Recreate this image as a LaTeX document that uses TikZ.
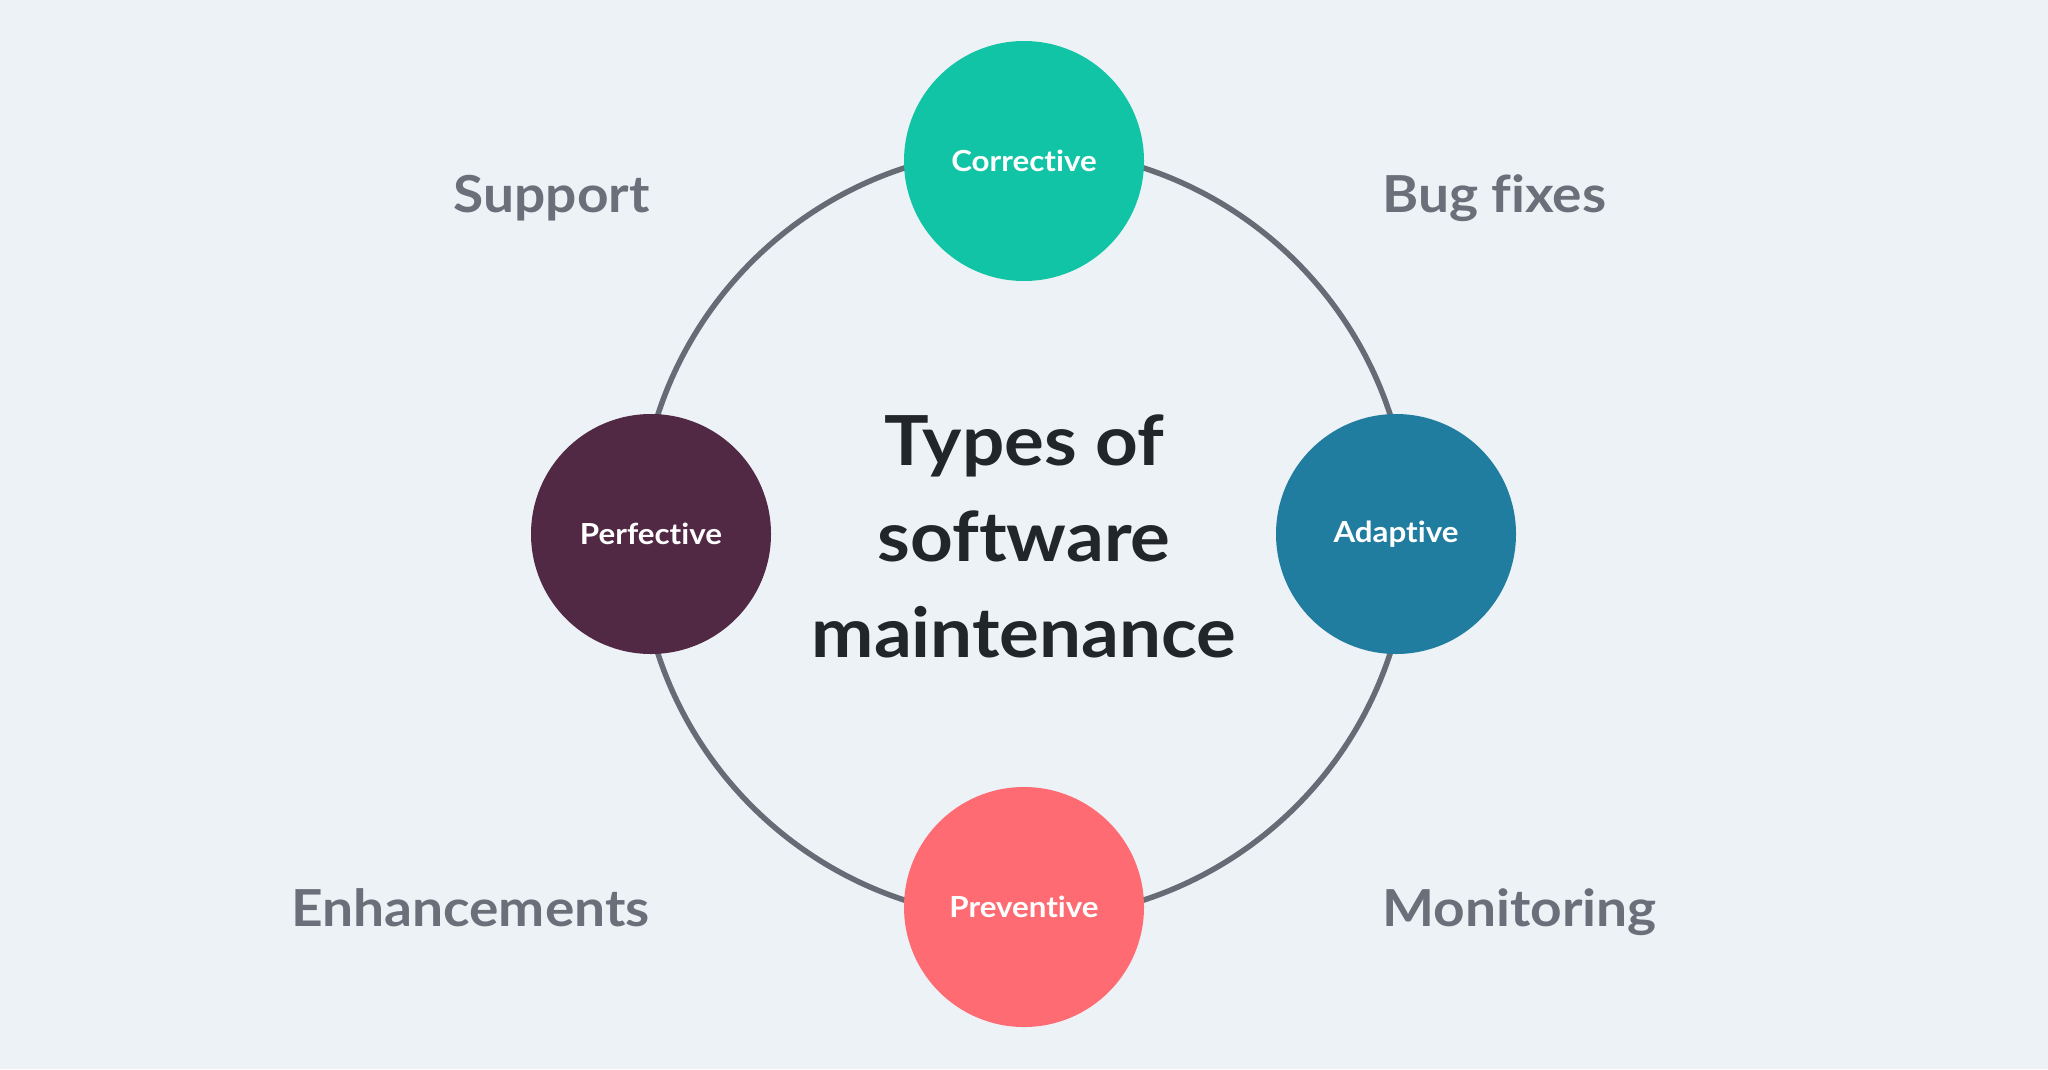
\documentclass[tikz,border=0pt]{standalone}
\usepackage{fontspec}
\setmainfont[FakeStretch=1.08, Ligatures={NoCommon,NoRare,NoDiscretionary}]{Lato}
\definecolor{bg}{HTML}{ECF2F5}
\definecolor{ringc}{HTML}{676B75}
\definecolor{labc}{HTML}{6B6F7A}
\definecolor{titlec}{HTML}{222529}
\definecolor{corc}{HTML}{10C4A5}
\definecolor{adac}{HTML}{217D9F}
\definecolor{perc}{HTML}{512944}
\definecolor{prec}{HTML}{FF6B72}
\tikzset{
  ring/.style={draw=ringc, line width=5.5pt},
  kind/.style={circle, minimum size=240pt, inner sep=0pt, text=white,
    font=\bfseries\fontsize{29}{34}\selectfont},
  lab/.style={text=labc, inner sep=0pt, font=\bfseries\fontsize{51}{60}\selectfont},
  title/.style={text=titlec, align=center, inner sep=0pt,
    font=\bfseries\fontsize{69}{96}\selectfont}
}
\begin{document}
\begin{tikzpicture}[x=1pt,y=-1pt]
\fill[bg] (0,0) rectangle (2048,1069);
\useasboundingbox (0,0) rectangle (2048,1069);
\coordinate (ctr) at (1024,534);
\draw[ring] (ctr) circle[radius=385];
\node[kind, fill=corc] (cor) at (1024,161) {Corrective};
\node[kind, fill=adac] (ada) at (1396,534) {Adaptive};
\node[kind, fill=perc] (per) at (651,534) {Perfective};
\node[kind, fill=prec] (pre) at (1024,907) {Preventive};
\node[title] (ttl) at (1024,536) {Types of\\software\\maintenance};
\node[lab, anchor=base east] (sup) at (650,212) {Support};
\node[lab, anchor=base west] (bug) at (1382,212) {Bug fixes};
\node[lab, anchor=base east] (enh) at (650,926) {Enhancements};
\node[lab, anchor=base west] (mon) at (1382,926) {Monitoring};
\end{tikzpicture}
\end{document}
